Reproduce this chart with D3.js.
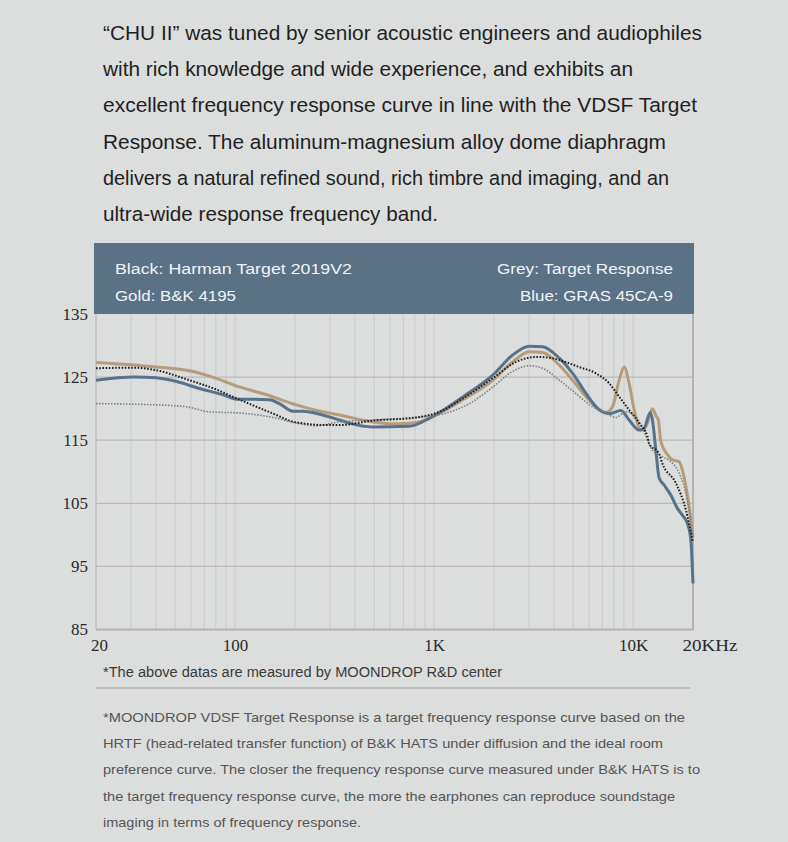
<!DOCTYPE html>
<html><head><meta charset="utf-8">
<script src="https://cdn.jsdelivr.net/npm/d3@7"></script>
<style>html,body{margin:0;padding:0;background:#dcdddd;} svg{display:block;}</style>
</head><body><svg id="c" width="788" height="842"></svg>
<script>
// ---------- text content ----------
const introLines = [
  "\u201CCHU II\u201D was tuned by senior acoustic engineers and audiophiles",
  "with rich knowledge and wide experience, and exhibits an",
  "excellent frequency response curve in line with the VDSF Target",
  "Response. The aluminum-magnesium alloy dome diaphragm",
  "delivers a natural refined sound, rich timbre and imaging, and an",
  "ultra-wide response frequency band."
];
const legendLeft = ["Black: Harman Target 2019V2", "Gold: B&K 4195"];
const legendRight = ["Grey: Target Response", "Blue: GRAS 45CA-9"];
const footNote = "*The above datas are measured by MOONDROP R&D center";
const noteLines = [
  "*MOONDROP VDSF Target Response is a target frequency response curve based on the",
  "HRTF (head-related transfer function) of B&K HATS under diffusion and the ideal room",
  "preference curve. The closer the frequency response curve measured under B&K HATS is to",
  "the target frequency response curve, the more the earphones can reproduce soundstage",
  "imaging in terms of frequency response."
];

// ---------- axes ----------
const yTicks = [135, 125, 115, 105, 95, 85];
const xTicks = [20, 100, 1000, 10000, 20000];
const xTickLabels = ["20", "100", "1K", "10K", "20KHz"];

// ---------- series (Hz, dB) ----------
const freqGold = [20,40,59,77,106,144,203,275,335,491,645,813,1024,1394,1970,2480,3010,3510,4260,4970,5800,6500,7300,7880,8510,9020,9550,10130,10940,11800,12510,13010,13400,13780,14880,15760,17020,18030,19120,20000];
const splGold  = [127.3,126.6,126.0,125.0,123.4,122.2,120.6,119.5,119.0,117.9,117.6,117.8,119.0,121.4,124.5,127.4,129.0,128.9,126.9,124.5,121.9,120.3,119.4,120.3,124.5,126.6,124.0,119.8,116.6,117.7,120.0,118.9,118.2,114.8,112.7,111.9,111.6,109.2,104.5,99.5];

const freqBlue = [20,31,40,51,66,87,102,123,149,167,195,219,275,335,376,490,750,950,1400,1970,2480,3010,3510,4260,4970,5800,6760,7590,8690,9550,10730,11370,12190,12510,13010,13520,14320,15470,16700,17700,18750,19500,20000];
const splBlue  = [124.5,125.0,124.9,124.3,123.2,122.2,121.5,121.5,121.4,120.8,119.6,119.6,119.0,118.2,117.7,117.1,117.2,118.5,121.9,125.3,128.5,129.9,129.8,128.0,125.6,122.4,119.8,119.2,119.7,118.2,116.6,116.9,119.4,118.2,113.4,109.0,107.9,106.3,104.2,103.1,101.8,99.2,92.3];

const freqHarman = [20,31,40,59,81,102,128,161,188,228,275,335,491,813,1064,1394,1970,2580,3250,3930,4260,5360,6500,7590,8510,9550,10730,11800,12040,13520,14040,16400,18400,20000];
const splHarman  = [126.4,126.5,126.1,124.5,123.0,121.6,120.3,119.0,118.1,117.6,117.4,117.4,118.1,118.6,119.5,121.6,124.8,127.4,128.2,128.0,127.7,126.6,125.6,124.0,121.9,119.8,117.7,115.6,114.5,112.8,111.3,108.2,104.0,98.8];

const freqTarget = [20,40,57,74,106,155,203,256,335,491,813,1150,1505,1970,2480,3010,3510,4260,5160,6250,7300,8200,9200,10330,11140,12510,14040,15470,17020,18750,20000];
const splTarget  = [120.8,120.6,120.3,119.5,119.3,118.6,117.7,117.3,117.9,118.2,118.6,119.3,120.8,123.4,125.9,126.8,126.4,124.5,122.4,120.3,119.3,118.6,119.5,118.7,116.9,113.4,112.4,111.6,109.8,105.5,99.7];

// ---------- layout (positions / styles) ----------
const L = {
  left: 96, right: 693, top: 314, bottom: 629.5,
  introX: 103, introY0: 40, introDy: 36.2, introW: [599, 530, 594, 563, 566, 335],
  head: {x: 94, y: 243, w: 600, h: 71, lx: 115, rx: 673, y1: 274, y2: 301,
         lw: [237, 121], rw: [176, 153]},
  foot: {x: 103, y: 677, w: 399, ruleY: 688, ruleX1: 96, ruleX2: 690},
  note: {x: 103, y0: 722, dy: 26.2, w: [582, 560, 597, 572, 258]}
};

const svg = d3.select("#c");
svg.append("rect").attr("width", 788).attr("height", 842).attr("fill", "#dcdddd");

// intro text
svg.append("g").selectAll("text").data(introLines).join("text")
  .attr("x", L.introX).attr("y", (d, i) => L.introY0 + i * L.introDy)
  .attr("textLength", (d, i) => L.introW[i]).attr("lengthAdjust", "spacingAndGlyphs")
  .attr("font-family", "Liberation Sans, Arial, sans-serif").attr("font-size", 20.5)
  .attr("fill", "#1f1f1f").text(d => d);

// header box
svg.append("rect").attr("x", L.head.x).attr("y", L.head.y).attr("width", L.head.w).attr("height", L.head.h)
  .attr("fill", "#5b7186");
const hy = [L.head.y1, L.head.y2];
svg.append("g").selectAll("text").data(legendLeft).join("text")
  .attr("x", L.head.lx).attr("y", (d, i) => hy[i])
  .attr("textLength", (d, i) => L.head.lw[i]).attr("lengthAdjust", "spacingAndGlyphs")
  .attr("font-family", "Liberation Sans, Arial, sans-serif").attr("font-size", 15.5)
  .attr("fill", "#f2f4f6").text(d => d);
svg.append("g").selectAll("text").data(legendRight).join("text")
  .attr("x", (d, i) => L.head.rx - L.head.rw[i]).attr("y", (d, i) => hy[i])
  .attr("textLength", (d, i) => L.head.rw[i]).attr("lengthAdjust", "spacingAndGlyphs")
  .attr("font-family", "Liberation Sans, Arial, sans-serif").attr("font-size", 15.5)
  .attr("fill", "#f2f4f6").text(d => d);

// scales
const x = d3.scaleLog().domain([20, 20000]).range([L.left, L.right]);
const y = d3.scaleLinear().domain([85, 135]).range([L.bottom, L.top]);

// grid
const minor = [];
for (let k = 1; k <= 4; k++) for (let d = 1; d <= 9; d++) {
  const v = d * Math.pow(10, k);
  if (v > 20 && v < 20000) minor.push(v);
}
const grid = svg.append("g");
grid.selectAll("line.v").data(minor).join("line").attr("class", "v")
  .attr("x1", d => x(d)).attr("x2", d => x(d)).attr("y1", L.top).attr("y2", L.bottom)
  .attr("stroke", "#c9c9c9").attr("stroke-width", 1);
grid.selectAll("line.h").data(yTicks.slice(1, -1)).join("line").attr("class", "h")
  .attr("x1", L.left).attr("x2", L.right).attr("y1", d => y(d)).attr("y2", d => y(d))
  .attr("stroke", "#b9b9b9").attr("stroke-width", 1.2);
// borders
grid.append("line").attr("x1", L.left).attr("x2", L.left).attr("y1", L.top).attr("y2", L.bottom)
  .attr("stroke", "#b8b8b8").attr("stroke-width", 1.2);
grid.append("line").attr("x1", L.right).attr("x2", L.right).attr("y1", L.top).attr("y2", L.bottom)
  .attr("stroke", "#b3b3b3").attr("stroke-width", 2);
grid.append("line").attr("x1", L.left).attr("x2", L.right + 1).attr("y1", L.bottom).attr("y2", L.bottom)
  .attr("stroke", "#b3b3b3").attr("stroke-width", 2);

// axes
const yAxis = svg.append("g").attr("transform", `translate(${L.left},0)`)
  .call(d3.axisLeft(y).tickValues(yTicks).tickSize(0).tickPadding(8).tickFormat(d3.format("d")));
yAxis.select(".domain").remove();
yAxis.selectAll("text").attr("font-family", "Liberation Serif, Times New Roman, serif")
  .attr("font-size", 17).attr("fill", "#2a2a2a");

const xAxis = svg.append("g").attr("transform", `translate(0,${L.bottom})`)
  .call(d3.axisBottom(x).tickValues(xTicks).tickSize(0).tickPadding(9)
    .tickFormat((d, i) => xTickLabels[i]));
xAxis.select(".domain").remove();
xAxis.selectAll("text").attr("font-family", "Liberation Serif, Times New Roman, serif")
  .attr("font-size", 17).attr("fill", "#2a2a2a");
xAxis.selectAll(".tick").filter(d => d === 20000).select("text")
  .attr("text-anchor", "start").attr("x", -11).attr("textLength", 55).attr("lengthAdjust", "spacingAndGlyphs");
xAxis.selectAll(".tick").filter(d => d === 20).select("text").attr("x", 3);

// curves
const line = d3.line().x(d => x(d[0])).y(d => y(d[1])).curve(d3.curveMonotoneX);
const zip = (f, s) => f.map((v, i) => [v, s[i]]);
const series = [
  {data: zip(freqGold, splGold), color: "#b59d7b", w: 3, dash: null},
  {data: zip(freqBlue, splBlue), color: "#587289", w: 3, dash: null},
  {data: zip(freqTarget, splTarget), color: "#7d7d7d", w: 1.6, dash: "1.5,1.5"},
  {data: zip(freqHarman, splHarman), color: "#1e1e1e", w: 2, dash: "1.6,1.6"}
];
svg.append("g").selectAll("path").data(series).join("path")
  .attr("d", d => line(d.data)).attr("fill", "none")
  .attr("stroke", d => d.color).attr("stroke-width", d => d.w)
  .attr("stroke-dasharray", d => d.dash).attr("stroke-linejoin", "round").attr("stroke-linecap", "butt");

// footer
svg.append("text").attr("x", L.foot.x).attr("y", L.foot.y)
  .attr("textLength", L.foot.w).attr("lengthAdjust", "spacingAndGlyphs")
  .attr("font-family", "Liberation Sans, Arial, sans-serif").attr("font-size", 14)
  .attr("fill", "#3a3a3a").text(footNote);
svg.append("line").attr("x1", L.foot.ruleX1).attr("x2", L.foot.ruleX2)
  .attr("y1", L.foot.ruleY).attr("y2", L.foot.ruleY).attr("stroke", "#9a9a9a").attr("stroke-width", 1);
svg.append("g").selectAll("text").data(noteLines).join("text")
  .attr("x", L.note.x).attr("y", (d, i) => L.note.y0 + i * L.note.dy)
  .attr("textLength", (d, i) => L.note.w[i]).attr("lengthAdjust", "spacingAndGlyphs")
  .attr("font-family", "Liberation Sans, Arial, sans-serif").attr("font-size", 13.5)
  .attr("fill", "#555").text(d => d);
</script></body></html>
